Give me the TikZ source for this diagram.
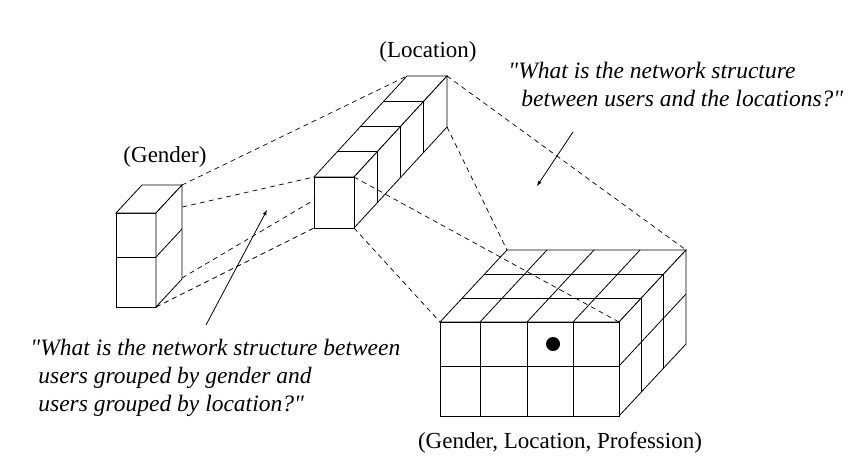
\documentclass[tikz,border=0pt]{standalone}
\usepackage{fontspec}
\setmainfont{Liberation Serif}
\begin{document}
\begin{tikzpicture}[x=1pt,y=-1pt,line width=0.8pt,
  dsh/.style={dashed,dash pattern=on 5pt off 4pt,line width=0.7pt},
  lbl/.style={font=\fontsize{23}{27}\selectfont,inner sep=0pt},
  qt/.style={font=\fontsize{23.5}{28}\selectfont\itshape,inner sep=0pt,align=left},
  arr/.style={-latex,line width=0.8pt}]
\useasboundingbox (0,0) rectangle (856,469);
\coordinate (gbtr) at (182,185); \coordinate (gftr) at (156,213);
\coordinate (gbbr) at (182,278); \coordinate (gfbr) at (156,307);
\coordinate (lbtl) at (407,76); \coordinate (lftl) at (314,177);
\coordinate (lfml) at (314,200); \coordinate (lfbl) at (314,228);
\coordinate (lbtr) at (447,76); \coordinate (lbbr) at (447,127);
\coordinate (lftr) at (354,177); \coordinate (lfbr) at (354,228);
\coordinate (cbtr) at (686,250); \coordinate (cbtl) at (507,250);
\coordinate (cftr) at (619,322); \coordinate (cftl) at (440,322);
\draw[dsh] (gbtr)--(lbtl) (gftr)--(lftl) (gbbr)--(lfml) (gfbr)--(lfbl);
% Gender column
\begin{scope}[shift={(116,213)}]
\def\dx{26}\def\dy{-28}
\draw[fill=white] (0,0) rectangle (40,94);
\draw (0,44)--(40,44);
\draw[fill=white] (0,0)--(\dx,\dy)--(40+\dx,\dy)--(40,0)--cycle;
\draw[fill=white] (40,0)--(40+\dx,\dy)--(40+\dx,94+\dy)--(40,94)--cycle;
\draw (40,44)--(40+\dx,44+\dy);
\end{scope}
% Location column
\begin{scope}[shift={(314,177)}]
\def\dx{93}\def\dy{-101}
\draw[fill=white] (0,0)--(\dx,\dy)--(40+\dx,\dy)--(40,0)--cycle;
\draw[fill=white] (40,0)--(40+\dx,\dy)--(40+\dx,51+\dy)--(40,51)--cycle;
\foreach \k in {0.25,0.5,0.75}{
  \draw (\k*\dx,\k*\dy)--(40+\k*\dx,\k*\dy)--(40+\k*\dx,51+\k*\dy);}
\draw[fill=white] (0,0) rectangle (40,51);
\end{scope}
% Big cube
\begin{scope}[shift={(440,322)}]
\def\dx{67}\def\dy{-72}
\draw[fill=white] (0,0)--(\dx,\dy)--(179+\dx,\dy)--(179,0)--cycle;
\draw[fill=white] (179,0)--(179+\dx,\dy)--(179+\dx,94+\dy)--(179,94)--cycle;
\foreach \k in {1,2}{
  \draw (\k*\dx/3,\k*\dy/3)--(179+\k*\dx/3,\k*\dy/3)--(179+\k*\dx/3,94+\k*\dy/3);}
\foreach \x in {40,87,133}{\draw (\x,0)--(\x+\dx,\dy);}
\draw (179,44)--(179+\dx,44+\dy);
\draw[fill=white] (0,0) rectangle (179,94);
\foreach \x in {40,87,133}{\draw (\x,0)--(\x,94);}
\draw (0,44)--(179,44);
\fill (113,22) circle (7);
\end{scope}
\draw[dsh] (lbtr)--(cbtr) (lbbr)--(cbtl) (lftr)--(cftr) (lfbr)--(cftl);
% Labels
\node[lbl] (tloc) at (428,52) {(Location)};
\node[lbl] (tgen) at (165,157) {(Gender)};
\node[lbl] (tgp) at (560,443) {(Gender, Location, Profession)};
\node[qt,anchor=north west] (q1) at (508,62) {\textquotedbl What is the network structure\\\hspace*{13pt}between users and the locations?\textquotedbl};
\node[qt,anchor=north west] (q2) at (30,339) {\textquotedbl What is the network structure between\\\hspace*{8pt}users grouped by gender and\\\hspace*{8pt}users grouped by location?\textquotedbl};
\coordinate (a1t) at (267,210); \coordinate (a1s) at (206,325);
\coordinate (a2t) at (537,186); \coordinate (a2s) at (573,132);
\draw[arr] (a1s)--(a1t);
\draw[arr] (a2s)--(a2t);
\end{tikzpicture}
\end{document}
